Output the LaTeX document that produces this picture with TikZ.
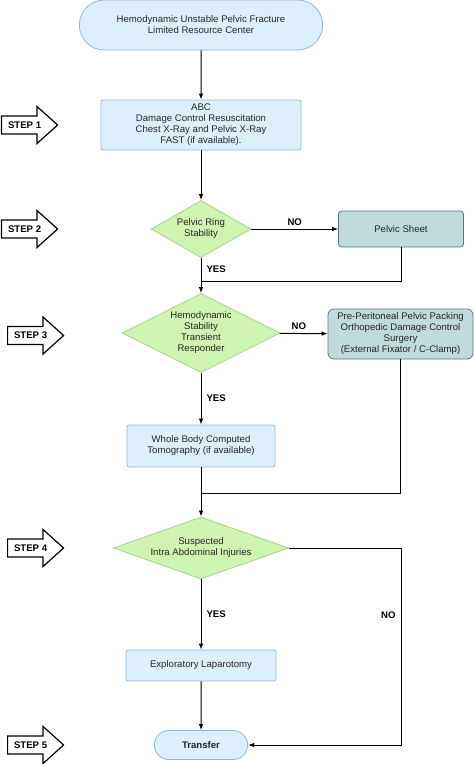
\documentclass[tikz,border=0pt]{standalone}
\usepackage{fontspec}
\setmainfont{Liberation Sans}
\usetikzlibrary{shapes.geometric,shapes.misc,shapes.arrows,arrows.meta}

\definecolor{boxfill}{HTML}{DDEFFA}
\definecolor{boxline}{HTML}{94B8DC}
\definecolor{decfill}{HTML}{CFF4B2}
\definecolor{decline}{HTML}{A6D48A}
\definecolor{tealfill}{HTML}{BFDBDC}
\definecolor{tealline}{HTML}{52798A}

\tikzset{
	txt/.style={font=\fontsize{9.6}{11}\selectfont, align=center, text=black!85},
	term/.style={txt, rounded rectangle, draw=boxline, fill=boxfill, line width=0.8pt},
	proc/.style={txt, rectangle, rounded corners=2pt, draw=boxline, fill=boxfill, line width=0.8pt},
	act/.style={txt, rectangle, rounded corners=3pt, draw=tealline, fill=tealfill, line width=0.8pt},
	decide/.style={txt, diamond, draw=decline, fill=decfill, line width=0.8pt, inner sep=0pt},
	stepbox/.style={single arrow, draw=black, fill=white, line width=1.2pt,
		font=\bfseries\fontsize{9.6}{11}\selectfont, minimum height=56pt,
		single arrow head extend=9.5pt, single arrow tip angle=84,
		inner xsep=2pt, inner ysep=5pt, anchor=tail},
	flow/.style={line width=1pt, -{Latex[length=6pt,width=4.5pt]}},
	link/.style={line width=1pt},
	yn/.style={font=\bfseries\fontsize{9.6}{11}\selectfont}
}

\begin{document}
\begin{tikzpicture}[x=1pt,y=-1pt]
	\useasboundingbox (0,0) rectangle (474,764);

	% main column
	\node[term, minimum width=250pt, minimum height=50pt] (start) at (201,25)
		{Hemodynamic Unstable Pelvic Fracture\\Limited Resource Center};
	\node[proc, minimum width=200pt, minimum height=50pt] (abc) at (201,125)
		{ABC\\Damage Control Resuscitation\\Chest X-Ray and Pelvic X-Ray\\FAST (if available).};
	\node[decide, minimum width=100pt, minimum height=57pt, aspect=1.75] (ring) at (201,229)
		{Pelvic Ring\\Stability};
	\node[decide, minimum width=158pt, minimum height=79pt, aspect=2] (hemo) at (201,333)
		{Hemodynamic\\Stability\\Transient\\Responder};
	\node[proc, minimum width=148pt, minimum height=42pt] (wbct) at (201,446)
		{Whole Body Computed\\Tomography (if available)};
	\node[decide, minimum width=175pt, minimum height=62pt, aspect=2.8] (abdo) at (201,548)
		{Suspected\\Intra Abdominal Injuries};
	\node[proc, minimum width=150pt, minimum height=31pt] (lap) at (201,665.5)
		{Exploratory Laparotomy};
	\node[term, minimum width=100pt, minimum height=29pt, font=\bfseries\fontsize{9.6}{11}\selectfont] (transfer) at (201,745)
		{Transfer};

	% side boxes
	\node[act, minimum width=125pt, minimum height=36pt] (sheet) at (401,229) {Pelvic Sheet};
	\node[act, rounded corners=6pt, minimum width=145pt, minimum height=50pt] (pack) at (400.5,334)
		{Pre-Peritoneal Pelvic Packing\\Orthopedic Damage Control\\Surgery\\(External Fixator / C-Clamp)};

	% steps
	\node[stepbox] (s1) at (1,125) {STEP 1};
	\node[stepbox] (s2) at (1,229) {STEP 2};
	\node[stepbox] (s3) at (7,335.5) {STEP 3};
	\node[stepbox] (s4) at (7,548) {STEP 4};
	\node[stepbox] (s5) at (7,745) {STEP 5};

	% junctions
	\coordinate (j1) at (201,281);
	\coordinate (j2) at (201,493);

	% connectors
	\draw[flow] (start) -- (abc);
	\draw[flow] (abc) -- (ring);
	\draw[flow] (ring) -- node[yn, above, pos=0.5] {NO} (sheet);
	\draw[link] (sheet.south) |- (j1);
	\draw[flow] (ring) -- (hemo);
	\node[yn, anchor=west] (yes1) at (203,269) {YES};
	\draw[flow] (hemo) -- node[yn, above, pos=0.4] {NO} (pack);
	\draw[link] (pack.south) |- (j2);
	\draw[flow] (hemo) -- (wbct);
	\node[yn, anchor=west] (yes2) at (203,398) {YES};
	\draw[flow] (wbct) -- (abdo);
	\draw[flow] (abdo) -- (lap);
	\node[yn, anchor=west] (yes3) at (203,614) {YES};
	\draw[flow] (lap) -- (transfer);
	\draw[flow] (abdo.east) -- (abdo.east -| sheet.south) |- (transfer.east);
	\node[yn, anchor=east] (no3) at (399,615) {NO};
\end{tikzpicture}
\end{document}
